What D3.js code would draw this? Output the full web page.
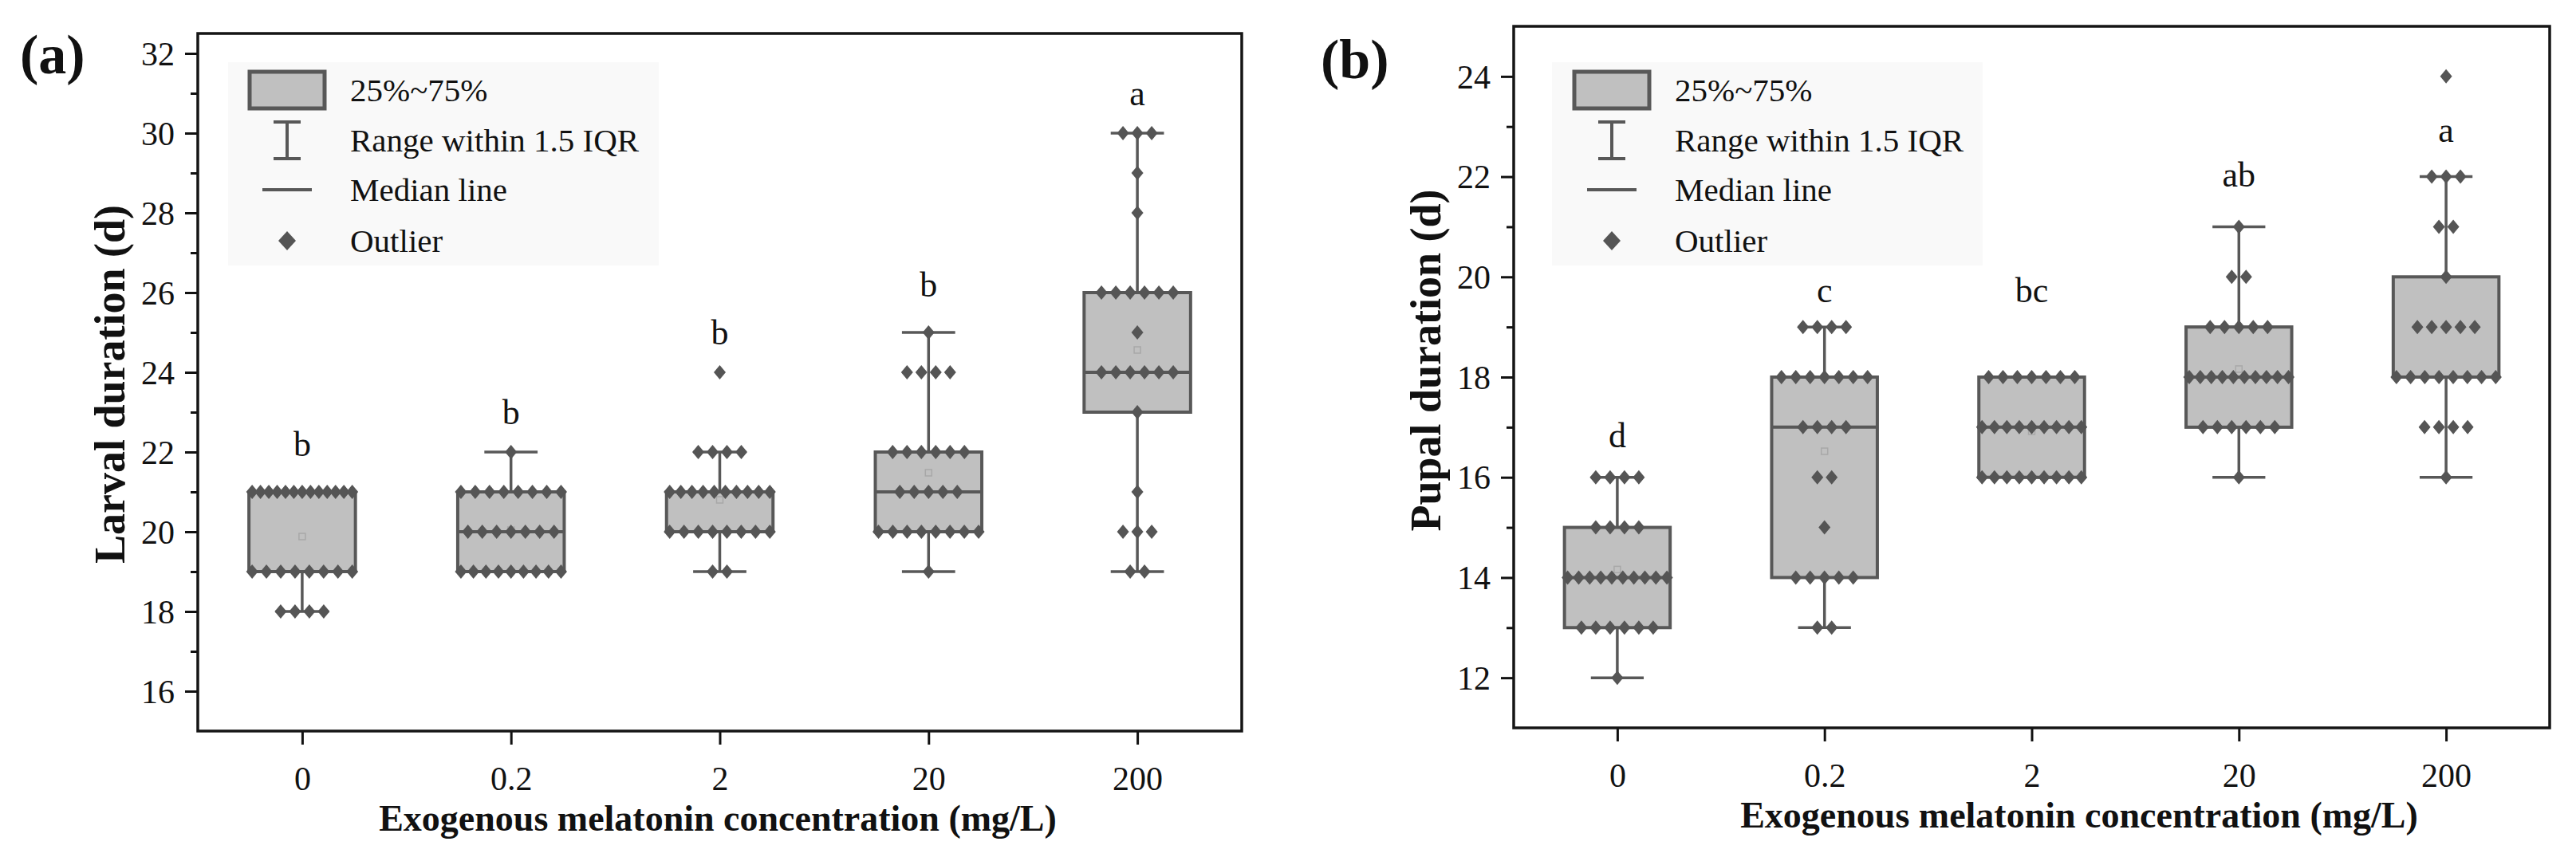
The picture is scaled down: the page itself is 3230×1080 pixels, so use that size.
<!DOCTYPE html>
<html>
<head>
<meta charset="utf-8">
<script src="https://cdn.jsdelivr.net/npm/d3@7"></script>
<style>
  body { margin: 0; background: #fff; }
  svg text { font-family: "Liberation Serif", "Times New Roman", serif; fill: #111; }
</style>
</head>
<body>
<svg id="chart" width="3230" height="1080"></svg>
<script>
// melatonin concentrations on the x axis (mg/L)
var categories = ["0", "0.2", "2", "20", "200"];

// (a) larval duration in days, one array per concentration
var larval0   = [18,18,18,18, 19,19,19,19,19,19,19,19, 21,21,21,21,21,21,21,21,21,21,21,21,21];
var larval02  = [19,19,19,19,19,19,19,19,19, 20,20,20,20,20,20,20, 21,21,21,21,21,21,21,21, 22];
var larval2   = [19,19, 20,20,20,20,20,20,20,20, 21,21,21,21,21,21,21,21,21,21, 22,22,22,22, 24];
var larval20  = [19, 20,20,20,20,20,20,20,20, 21,21,21,21,21, 22,22,22,22,22,22, 24,24,24,24, 25];
var larval200 = [19,19, 20,20,20, 21, 23, 24,24,24,24,24,24, 25, 26,26,26,26,26,26, 28, 29, 30,30,30];
var larvalLetters  = ["b", "b", "b", "b", "a"];
var larvalLetterAt = [21.9, 22.7, 24.7, 25.9, 30.7];
var larvalTicks = [16, 18, 20, 22, 24, 26, 28, 30, 32];

// (b) pupal duration in days
var pupal0   = [12, 13,13,13,13,13,13, 14,14,14,14,14,14,14,14,14,14, 15,15,15,15, 16,16,16,16];
var pupal02  = [13,13, 14,14,14,14,14, 15, 16,16, 17,17,17,17, 18,18,18,18,18,18,18, 19,19,19,19];
var pupal2   = [16,16,16,16,16,16,16,16,16, 17,17,17,17,17,17,17,17,17, 18,18,18,18,18,18,18];
var pupal20  = [16, 17,17,17,17,17,17, 18,18,18,18,18,18,18,18,18,18, 19,19,19,19,19, 20,20, 21];
var pupal200 = [16, 17,17,17,17, 18,18,18,18,18,18,18,18, 19,19,19,19,19, 20, 21,21, 22,22,22, 24];
var pupalLetters  = ["d", "c", "bc", "ab", "a"];
var pupalLetterAt = [16.6, 19.5, 19.5, 21.8, 22.7];
var pupalTicks = [12, 14, 16, 18, 20, 22, 24];

var legendLabels = ["25%~75%", "Range within 1.5 IQR", "Median line", "Outlier"];
var xTitle = "Exogenous melatonin concentration (mg/L)";

var boxFill = "#c0c0c0", boxLine = "#585858", dotFill = "#555555";

var svg = d3.select("#chart");

function diamond(w, h) {
	return "M0," + (-h) + "L" + w + ",0L0," + h + "L" + (-w) + ",0Z";
}

function hline(g, x1, x2, y0, w) {
	return g.append("line").attr("x1", x1).attr("x2", x2).attr("y1", y0).attr("y2", y0)
		.attr("stroke", boxLine).attr("stroke-width", w);
}

function vline(g, x0, y1, y2, w) {
	return g.append("line").attr("x1", x0).attr("x2", x0).attr("y1", y1).attr("y2", y2)
		.attr("stroke", boxLine).attr("stroke-width", w);
}

function drawPanel(p) {
	var x = d3.scalePoint().domain(categories).range([p.left, p.right]).padding(0.5);
	var y = d3.scaleLinear().domain(p.domain).range([p.bottom, p.top]);
	var boxW = x.step() * 0.51;
	var g = svg.append("g");

	// faint panel behind the key
	g.append("rect")
		.attr("x", p.left + p.legendBg).attr("y", 78)
		.attr("width", 540).attr("height", 255)
		.attr("fill", "#f9f9f9");

	// y axis, major and minor ticks
	var minor = d3.range(p.domain[0] + 1, p.domain[1], 1).filter(v => p.ticks.indexOf(v) < 0 && Number.isInteger(v));
	g.append("g")
		.attr("transform", "translate(" + p.left + ",0)")
		.call(d3.axisLeft(y).tickValues(minor).tickSize(9).tickFormat(""))
		.call(a => a.select(".domain").remove())
		.call(a => a.selectAll("line").attr("stroke", "#111").attr("stroke-width", 3));
	g.append("g")
		.attr("transform", "translate(" + p.left + ",0)")
		.call(d3.axisLeft(y).tickValues(p.ticks).tickSize(16).tickPadding(13).tickFormat(d3.format("d")))
		.call(a => a.select(".domain").remove())
		.call(a => a.selectAll("line").attr("stroke", "#111").attr("stroke-width", 3))
		.call(a => a.selectAll("text").attr("font-size", 42).attr("font-family", null).attr("dy", "0.34em"));

	// x axis
	g.append("g")
		.attr("transform", "translate(0," + p.bottom + ")")
		.call(d3.axisBottom(x).tickSize(17).tickPadding(27))
		.call(a => a.select(".domain").remove())
		.call(a => a.selectAll("line").attr("stroke", "#111").attr("stroke-width", 3))
		.call(a => a.selectAll("text").attr("font-size", 42).attr("font-family", null));

	// frame
	g.append("rect")
		.attr("x", p.left).attr("y", p.top)
		.attr("width", p.right - p.left).attr("height", p.bottom - p.top)
		.attr("fill", "none").attr("stroke", "#151515").attr("stroke-width", 3.5);

	// boxes
	p.groups.forEach(function (vals, i) {
		var v = vals.slice().sort(d3.ascending);
		var q1 = d3.quantile(v, 0.25), med = d3.quantile(v, 0.5), q3 = d3.quantile(v, 0.75);
		var iqr = q3 - q1;
		var lo = d3.min(v.filter(d => d >= q1 - 1.5 * iqr));
		var hi = d3.max(v.filter(d => d <= q3 + 1.5 * iqr));
		var cx = x(categories[i]);
		var b = g.append("g");

		// whiskers and caps
		vline(b, cx, y(q3), y(hi), 3.5);
		vline(b, cx, y(q1), y(lo), 3.5);
		hline(b, cx - boxW / 4, cx + boxW / 4, y(hi), 3.5);
		hline(b, cx - boxW / 4, cx + boxW / 4, y(lo), 3.5);

		b.append("rect")
			.attr("x", cx - boxW / 2).attr("y", y(q3))
			.attr("width", boxW).attr("height", y(q1) - y(q3))
			.attr("fill", boxFill).attr("stroke", boxLine).attr("stroke-width", 4);
		hline(b, cx - boxW / 2, cx + boxW / 2, y(med), 4);

		// mean marker
		b.append("rect")
			.attr("x", cx - 4).attr("y", y(d3.mean(v)) - 4)
			.attr("width", 8).attr("height", 8)
			.attr("fill", "none").attr("stroke", "#a8a8a8").attr("stroke-width", 1.5);

		// data points, spread sideways within each level
		d3.group(v, d => d).forEach(function (row, val) {
			var n = row.length;
			var step = n > 1 ? Math.min(18, (boxW - 8) / (n - 1)) : 0;
			row.forEach(function (d, k) {
				b.append("path")
					.attr("d", diamond(7.5, 9))
					.attr("transform", "translate(" + (cx + (k - (n - 1) / 2) * step) + "," + y(val) + ")")
					.attr("fill", dotFill);
			});
		});

		// significance letter
		g.append("text")
			.attr("x", cx).attr("y", y(p.letterAt[i]))
			.attr("text-anchor", "middle").attr("font-size", 44)
			.text(p.letters[i]);
	});

	// legend
	var lx = p.left + p.legendDx, tx = lx + 79;
	var rows = [113, 176, 238, 302];
	g.append("rect")
		.attr("x", lx - 47).attr("y", rows[0] - 23).attr("width", 94).attr("height", 46)
		.attr("fill", boxFill).attr("stroke", boxLine).attr("stroke-width", 5);
	vline(g, lx, rows[1] - 23, rows[1] + 23, 4);
	hline(g, lx - 17, lx + 17, rows[1] - 23, 4);
	hline(g, lx - 17, lx + 17, rows[1] + 23, 4);
	hline(g, lx - 31, lx + 31, rows[2], 4);
	g.append("path").attr("d", diamond(11, 12)).attr("transform", "translate(" + lx + "," + rows[3] + ")").attr("fill", dotFill);
	legendLabels.forEach(function (t, k) {
		g.append("text").attr("x", tx).attr("y", rows[k]).attr("dy", "0.33em")
			.attr("font-size", 41).text(t);
	});

	// titles
	g.append("text")
		.attr("x", p.left + p.xTitleDx).attr("y", p.bottom + 125)
		.attr("text-anchor", "middle").attr("font-size", 46).attr("font-weight", "bold")
		.text(xTitle);
	g.append("text")
		.attr("transform", "translate(" + (p.left - 92) + "," + p.yTitleCy + ") rotate(-90)")
		.attr("text-anchor", "middle").attr("font-size", 54).attr("font-weight", "bold")
		.text(p.yTitle);
	g.append("text")
		.attr("x", p.tagX).attr("y", p.tagY)
		.attr("font-size", 70).attr("font-weight", "bold")
		.text(p.tag);
}

drawPanel({
	groups: [larval0, larval02, larval2, larval20, larval200],
	letters: larvalLetters, letterAt: larvalLetterAt, ticks: larvalTicks,
	domain: [15, 32.5], left: 248, right: 1557, top: 42, bottom: 917,
	legendDx: 112, legendBg: 38, xTitleDx: 652, yTitleCy: 482,
	yTitle: "Larval duration (d)", tag: "(a)", tagX: 25, tagY: 92
});
drawPanel({
	groups: [pupal0, pupal02, pupal2, pupal20, pupal200],
	letters: pupalLetters, letterAt: pupalLetterAt, ticks: pupalTicks,
	domain: [11, 25], left: 1898, right: 3197, top: 33, bottom: 913,
	legendDx: 123, legendBg: 48, xTitleDx: 709, yTitleCy: 452,
	yTitle: "Pupal duration (d)", tag: "(b)", tagX: 1656, tagY: 98
});
</script>
</body>
</html>
